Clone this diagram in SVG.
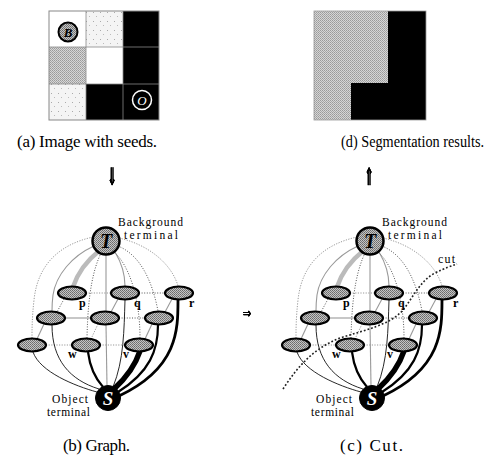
<svg xmlns="http://www.w3.org/2000/svg" width="493" height="468" viewBox="0 0 493 468">
<defs>
<pattern id="ht" width="2" height="2" patternUnits="userSpaceOnUse">
<rect width="2" height="2" fill="#c4c4c4"/><rect width="1" height="1" fill="#6a6a6a"/><rect x="1" y="1" width="1" height="1" fill="#7a7a7a"/>
</pattern>
<pattern id="lt" width="2" height="2" patternUnits="userSpaceOnUse">
<rect width="2" height="2" fill="#d6d6d6"/><rect width="1" height="1" fill="#9a9a9a"/><rect x="1" y="1" width="1" height="1" fill="#a8a8a8"/>
</pattern>
<pattern id="speck" width="7" height="9" patternUnits="userSpaceOnUse">
<rect width="7" height="9" fill="#f4f4f4"/><rect x="2" y="3" width="1" height="1" fill="#aaa"/><rect x="5" y="7" width="1" height="1" fill="#bbb"/>
</pattern>
<filter id="gray" x="-50%" y="-50%" width="200%" height="200%" color-interpolation-filters="sRGB">
<feColorMatrix type="matrix" values="0.33 0.33 0.33 0 0  0.33 0.33 0.33 0 0  0.33 0.33 0.33 0 0  0 0 0 1.6 0"/>
</filter>
</defs>
<style>
.cap{font-family:"Liberation Serif",serif;font-size:17px;fill:#000}
.small{font-family:"Liberation Serif",serif;font-size:11.5px;fill:#000}
.nl{font-family:"Liberation Serif",serif;font-size:12px;font-weight:bold;fill:#000}
.arr{font-family:"DejaVu Sans",sans-serif;font-size:24px;fill:#000;stroke:#000;stroke-width:0.5}
.node{fill:url(#ht);stroke:#000;stroke-width:2.2}
.tnode{fill:url(#ht);stroke:#000;stroke-width:2.5}
.snode{fill:#000;stroke:#000;stroke-width:1}
.tl{font-family:"Liberation Serif",serif;font-size:20px;font-weight:bold;font-style:italic}
.e{fill:none}
.dot{stroke:#555;stroke-width:1;stroke-dasharray:1,1.6}
.ldot{stroke:#999;stroke-width:1;stroke-dasharray:1.2,1.4}
.gry{stroke:#999;stroke-width:1.1}
.thk{stroke:#bbb;stroke-width:4.5}
.blk{stroke:#111;stroke-width:0.9}
.b2{stroke:#000;stroke-width:2.2}
.b3{stroke:#000;stroke-width:2.8}
.b5{stroke:#000;stroke-width:5.5}
.cut{fill:none;stroke:#222;stroke-width:1.6;stroke-dasharray:1.8,2}
</style>
<rect width="493" height="468" fill="#fff"/>

<!-- (a) image with seeds -->
<g id="image-a">
<rect x="49" y="11" width="37" height="36" fill="#fff"/>
<rect x="86" y="11" width="37" height="36" fill="url(#speck)"/>
<rect x="123" y="11" width="36" height="36" fill="#000"/>
<rect x="49" y="47" width="37" height="37" fill="url(#lt)"/>
<rect x="86" y="47" width="37" height="37" fill="#fff"/>
<rect x="123" y="47" width="36" height="37" fill="#000"/>
<rect x="49" y="84" width="37" height="36" fill="url(#speck)"/>
<rect x="86" y="84" width="37" height="36" fill="#000"/>
<rect x="123" y="84" width="36" height="36" fill="#000"/>
<path d="M86,11V120M123,11V120M49,47H159M49,84H159" stroke="#888" stroke-width="0.8" fill="none"/>
<rect x="49" y="11" width="110" height="109" fill="none" stroke="#888" stroke-width="1"/>
</g>
<g id="seed-B">
<circle cx="68" cy="32" r="9.5" fill="url(#ht)" stroke="#000" stroke-width="2"/>
<text x="68" y="37" text-anchor="middle" class="tl" style="font-size:13px" fill="#000">B</text>
</g>
<g id="seed-O">
<circle cx="142" cy="100" r="9.5" fill="#000" stroke="#fff" stroke-width="1.5"/>
<text x="142" y="105" text-anchor="middle" class="tl" style="font-size:13px;font-weight:normal" fill="#fff">O</text>
</g>
<text x="17" y="147" class="cap" textLength="140" lengthAdjust="spacing">(a) Image with seeds.</text>
<g filter="url(#gray)"><text class="arr" text-anchor="middle" transform="translate(112,185) scale(0.45,1)">⇓</text></g>

<!-- (d) segmentation -->
<g id="image-d">
<rect x="314" y="11" width="112" height="109" fill="url(#lt)"/>
<rect x="388" y="11" width="38" height="109" fill="#000"/>
<rect x="351" y="83" width="75" height="37" fill="#000"/>
<rect x="314" y="11" width="112" height="109" fill="none" stroke="#999" stroke-width="0.8"/>
</g>
<text class="cap" transform="translate(341,147) scale(0.84,1)">(d) Segmentation results.</text>
<g filter="url(#gray)"><text class="arr" text-anchor="middle" transform="translate(369,185) scale(0.45,1)">⇑</text></g>

<g filter="url(#gray)"><text class="arr" text-anchor="middle" style="font-size:14px;stroke-width:0.3" transform="translate(247,318) scale(0.7,1)">⇒</text></g>

<!-- (b) graph connectors -->
<g id="connectors-b" class="e">
<path class="ldot e" d="M86,293H111"/>
<path class="dot e" d="M139,293H165"/>
<path class="gry e" d="M65,318H91"/>
<path class="dot e" d="M119,318H145"/>
<path class="ldot e" d="M46,345H72"/>
<path class="ldot e" d="M100,345H125"/>
<path class="dot e" d="M64,299L57,312"/>
<path class="gry e" d="M118,299L111,312"/>
<path class="gry e" d="M172,299L165,312"/>
<path class="gry e" d="M44,324L37,339"/>
<path class="ldot e" d="M98,324L91,339"/>
<path class="gry e" d="M152,324L145,339"/>
<path class="ldot e" d="M93,237C62,244 38,262 34,300C32,318 32,330 32,338"/>
<path class="gry e" d="M94,246C72,256 56,275 53,295C52,303 52,308 52,311"/>
<path class="thk e" d="M99,251Q80,266 73,287"/>
<path class="dot e" d="M101,253C94,268 88,290 87,338"/>
<path class="gry e" d="M106,255V311"/>
<path class="gry e" d="M115,252C121,262 125,275 125,286"/>
<path class="dot e" d="M114,252C130,266 140,300 140,338"/>
<path class="dot e" d="M118,246C140,255 152,280 158,311"/>
<path class="ldot e" d="M119,238C150,245 172,265 178,286"/>
<path class="blk e" d="M33,352C40,372 75,386 97,392"/>
<path class="blk e" d="M52,325C52,360 70,380 99,389"/>
<path class="b2 e" d="M88,352C90,368 95,378 103,387"/>
<path class="gry e" d="M106,325L107,386"/>
<path class="blk e" d="M125,300C124,330 124,360 113,387"/>
<path class="b5 e" d="M140,351C135,366 126,378 114,389"/>
<path class="b2 e" d="M158,325C158,350 150,372 118,392"/>
<path class="b3 e" d="M178,300C178,330 178,368 119,396"/>
</g>

<!-- (b) nodes -->
<g id="b-T"><circle class="tnode" cx="106" cy="241" r="13.5"/><text x="106" y="248" text-anchor="middle" class="tl" fill="#000">T</text></g>
<g id="b-S"><circle class="snode" cx="108" cy="398" r="12.5"/><text x="108" y="405" text-anchor="middle" class="tl" style="font-size:19px" fill="#fff">S</text></g>
<g id="b-p"><ellipse class="node" cx="72" cy="293" rx="14" ry="6.5"/></g>
<g id="b-q"><ellipse class="node" cx="125" cy="293" rx="14" ry="6.5"/></g>
<g id="b-r"><ellipse class="node" cx="179" cy="293" rx="14" ry="6.5"/></g>
<g id="b-n4"><ellipse class="node" cx="51" cy="318" rx="14" ry="6.5"/></g>
<g id="b-n5"><ellipse class="node" cx="105" cy="318" rx="14" ry="6.5"/></g>
<g id="b-n6"><ellipse class="node" cx="159" cy="318" rx="14" ry="6.5"/></g>
<g id="b-n7"><ellipse class="node" cx="32" cy="345" rx="14" ry="6.5"/></g>
<g id="b-w"><ellipse class="node" cx="86" cy="345" rx="14" ry="6.5"/></g>
<g id="b-v"><ellipse class="node" cx="139" cy="345" rx="14" ry="6.5"/></g>
<text x="79" y="307" class="nl">p</text>
<text x="134" y="307" class="nl">q</text>
<text x="189" y="307" class="nl">r</text>
<text x="68" y="358" class="nl">w</text>
<text x="123" y="358" class="nl">v</text>
<text x="118" y="226" class="small" textLength="65" lengthAdjust="spacing">Background</text>
<text x="124" y="239" class="small" textLength="54" lengthAdjust="spacing">terminal</text>
<text x="52" y="403" class="small" textLength="36" lengthAdjust="spacing">Object</text>
<text x="47" y="416" class="small" textLength="43" lengthAdjust="spacing">terminal</text>
<text x="63" y="451" class="cap" textLength="67" lengthAdjust="spacing">(b) Graph.</text>

<!-- (c) cut connectors -->
<g id="connectors-c" class="e" transform="translate(264,0)">
<path class="ldot e" d="M86,293H111"/>
<path class="dot e" d="M139,293H165"/>
<path class="gry e" d="M65,318H91"/>
<path class="dot e" d="M119,318H145"/>
<path class="ldot e" d="M46,345H72"/>
<path class="ldot e" d="M100,345H125"/>
<path class="dot e" d="M64,299L57,312"/>
<path class="gry e" d="M118,299L111,312"/>
<path class="gry e" d="M172,299L165,312"/>
<path class="gry e" d="M44,324L37,339"/>
<path class="ldot e" d="M98,324L91,339"/>
<path class="gry e" d="M152,324L145,339"/>
<path class="ldot e" d="M93,237C62,244 38,262 34,300C32,318 32,330 32,338"/>
<path class="gry e" d="M94,246C72,256 56,275 53,295C52,303 52,308 52,311"/>
<path class="thk e" d="M99,251Q80,266 73,287"/>
<path class="dot e" d="M101,253C94,268 88,290 87,338"/>
<path class="gry e" d="M106,255V311"/>
<path class="gry e" d="M115,252C121,262 125,275 125,286"/>
<path class="dot e" d="M114,252C130,266 140,300 140,338"/>
<path class="dot e" d="M118,246C140,255 152,280 158,311"/>
<path class="ldot e" d="M119,238C150,245 172,265 178,286"/>
<path class="blk e" d="M33,352C40,372 75,386 97,392"/>
<path class="blk e" d="M52,325C52,360 70,380 99,389"/>
<path class="b2 e" d="M88,352C90,368 95,378 103,387"/>
<path class="gry e" d="M106,325L107,386"/>
<path class="blk e" d="M125,300C124,330 124,360 113,387"/>
<path class="b5 e" d="M140,351C135,366 126,378 114,389"/>
<path class="b2 e" d="M158,325C158,350 150,372 118,392"/>
<path class="b3 e" d="M178,300C178,330 178,368 119,396"/>
</g>

<!-- (c) nodes -->
<g id="c-T"><circle class="tnode" cx="370" cy="241" r="13.5"/><text x="370" y="248" text-anchor="middle" class="tl" fill="#000">T</text></g>
<g id="c-S"><circle class="snode" cx="372" cy="398" r="12.5"/><text x="372" y="405" text-anchor="middle" class="tl" style="font-size:19px" fill="#fff">S</text></g>
<g id="c-p"><ellipse class="node" cx="336" cy="293" rx="14" ry="6.5"/></g>
<g id="c-q"><ellipse class="node" cx="389" cy="293" rx="14" ry="6.5"/></g>
<g id="c-r"><ellipse class="node" cx="443" cy="293" rx="14" ry="6.5"/></g>
<g id="c-n4"><ellipse class="node" cx="315" cy="318" rx="14" ry="6.5"/></g>
<g id="c-n5"><ellipse class="node" cx="369" cy="318" rx="14" ry="6.5"/></g>
<g id="c-n6"><ellipse class="node" cx="423" cy="318" rx="14" ry="6.5"/></g>
<g id="c-n7"><ellipse class="node" cx="296" cy="345" rx="14" ry="6.5"/></g>
<g id="c-w"><ellipse class="node" cx="350" cy="345" rx="14" ry="6.5"/></g>
<g id="c-v"><ellipse class="node" cx="403" cy="345" rx="14" ry="6.5"/></g>
<path id="cut-line" class="cut" d="M283,389C298,366 314,348 340,338C365,330 390,325 403,310C414,296 420,281 435,273C445,268 451,266 457,264"/>
<text x="343" y="307" class="nl">p</text>
<text x="398" y="307" class="nl">q</text>
<text x="453" y="307" class="nl">r</text>
<text x="332" y="358" class="nl">w</text>
<text x="387" y="358" class="nl">v</text>
<text x="438" y="263" class="small" style="font-size:12px" textLength="17" lengthAdjust="spacing">cut</text>
<text x="382" y="226" class="small" textLength="65" lengthAdjust="spacing">Background</text>
<text x="388" y="239" class="small" textLength="54" lengthAdjust="spacing">terminal</text>
<text x="316" y="403" class="small" textLength="36" lengthAdjust="spacing">Object</text>
<text x="311" y="416" class="small" textLength="43" lengthAdjust="spacing">terminal</text>
<text x="340" y="451" class="cap" textLength="63" lengthAdjust="spacing">(c) Cut.</text>
</svg>
